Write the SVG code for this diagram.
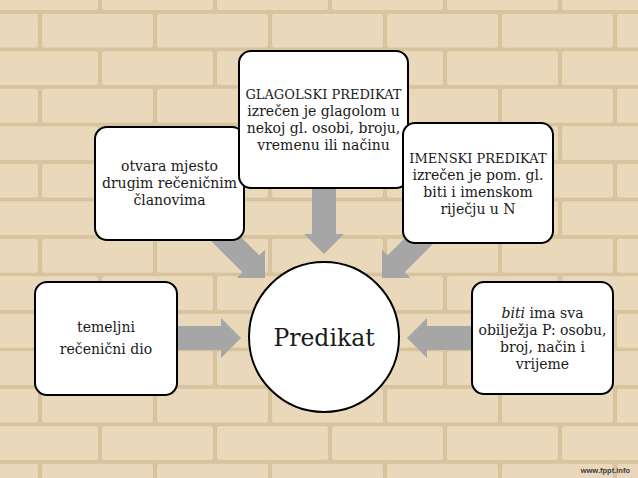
<svg xmlns="http://www.w3.org/2000/svg" width="638" height="478" viewBox="0 0 638 478">
<defs>
<pattern id="bricks" patternUnits="userSpaceOnUse" x="40" y="12" width="115" height="75">
<rect x="0" y="0" width="115" height="75" fill="#D8C49F"/>
<rect x="1.5" y="1.2" width="112" height="35" rx="3" fill="#E9D9BA" stroke="#D3BE97" stroke-width="0.8"/>
<rect x="61.5" y="38.7" width="112" height="35" rx="3" fill="#E9D9BA" stroke="#D3BE97" stroke-width="0.8"/>
<rect x="-53.5" y="38.7" width="112" height="35" rx="3" fill="#E9D9BA" stroke="#D3BE97" stroke-width="0.8"/>
</pattern>
<path id="arr" d="M0,0 L-20,-20 L-20,-12 L-70,-12 L-70,12 L-20,12 L-20,20 Z"/>
</defs>
<style>
.box{fill:#FFFFFF;stroke:#000000;stroke-width:2}
.t{font-family:"DejaVu Serif","Liberation Serif",serif;font-size:14px;fill:#1A1A1A;text-anchor:middle}
.c{font-size:13px}
.ar{fill:#A6A6A6}
</style>
<rect x="0" y="0" width="638" height="478" fill="url(#bricks)"/>

<g id="connectors">
<path class="ar" d="M241,338 L221,318 L221,326 L177,326 L177,350 L221,350 L221,358 Z"/>
<path class="ar" d="M407,338 L427,318 L427,326 L472,326 L472,350 L427,350 L427,358 Z"/>
<use href="#arr" class="ar" transform="translate(324,254) rotate(90)"/>
<use href="#arr" class="ar" transform="translate(265,278) rotate(45)"/>
<use href="#arr" class="ar" transform="translate(382,278) rotate(135)"/>
</g>

<g id="node-otvara">
<rect class="box" x="95" y="127" width="149" height="113" rx="12"/>
<text class="t"><tspan x="169.5" y="171">otvara mjesto</tspan><tspan x="169.5" y="188">drugim rečeničnim</tspan><tspan x="169.5" y="205">članovima</tspan></text>
</g>

<g id="node-glagolski">
<rect class="box" x="239" y="51" width="169" height="137" rx="12"/>
<text class="t"><tspan class="c" x="323.5" y="99">GLAGOLSKI PREDIKAT</tspan><tspan x="323.5" y="116">izrečen je glagolom u</tspan><tspan x="323.5" y="133">nekoj gl. osobi, broju,</tspan><tspan x="323.5" y="150">vremenu ili načinu</tspan></text>
</g>

<g id="node-imenski">
<rect class="box" x="403" y="123" width="150" height="120" rx="12"/>
<text class="t"><tspan class="c" x="478" y="163">IMENSKI PREDIKAT</tspan><tspan x="478" y="180">izrečen je pom. gl.</tspan><tspan x="478" y="197">biti i imenskom</tspan><tspan x="478" y="214">riječju u N</tspan></text>
</g>

<g id="node-temeljni">
<rect class="box" x="35" y="282" width="142" height="113" rx="12"/>
<text class="t"><tspan x="106" y="332">temeljni</tspan><tspan x="106" y="354">rečenični dio</tspan></text>
</g>

<g id="node-biti">
<rect class="box" x="472" y="282" width="141" height="112" rx="12"/>
<text class="t"><tspan x="542.5" y="317.5"><tspan font-style="italic">biti</tspan> ima sva</tspan><tspan x="542.5" y="334.5">obilježja P: osobu,</tspan><tspan x="542.5" y="351.5">broj, način i</tspan><tspan x="542.5" y="368.5">vrijeme</tspan></text>
</g>

<g id="node-predikat">
<circle cx="324" cy="337" r="75" fill="#FFFFFF" stroke="#000000" stroke-width="2"/>
<text class="t" x="324" y="346" style="font-size:23.5px">Predikat</text>
</g>

<text x="630" y="473" text-anchor="end" font-family="Liberation Sans, Arial, sans-serif" font-size="7.5" font-weight="bold" fill="#3A3A3A">www.fppt.info</text>
</svg>
